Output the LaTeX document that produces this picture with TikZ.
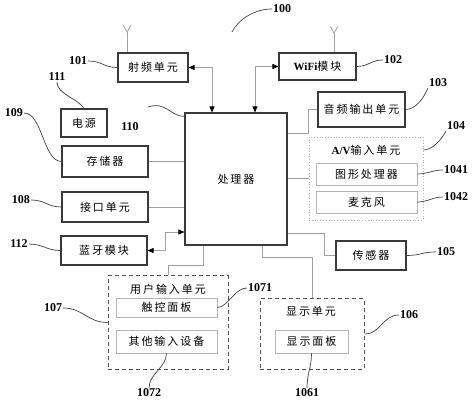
\documentclass[tikz,border=0pt]{standalone}
\usepackage{fontspec}
\setmainfont{Liberation Serif}
\newfontfamily\cjk[LetterSpace=18]{Noto Sans CJK SC}
\usetikzlibrary{arrows.meta}
\newcommand\latb[1]{{\rmfamily\bfseries #1}}
\definecolor{boxc}{HTML}{3A3A3A}
\definecolor{subc}{HTML}{B4B4B4}
\definecolor{grpc}{HTML}{505050}
\definecolor{connc}{HTML}{A0A0A0}
\definecolor{leadc}{HTML}{404040}
\begin{document}
\begin{tikzpicture}[x=1pt,y=-1pt,
  txt/.style={font=\cjk\fontsize{11}{13}\selectfont, text=black},
  box/.style={txt, draw=boxc, line width=1.1pt, inner sep=0pt},
  sub/.style={txt, draw=subc, line width=0.8pt, inner sep=0pt},
  grp/.style={draw=grpc, line width=1pt, dash pattern=on 4pt off 3pt, inner sep=0pt},
  dgrp/.style={draw=subc, line width=0.8pt, dotted, inner sep=0pt},
  lab/.style={font=\bfseries\fontsize{12}{14}\selectfont, inner sep=1pt},
  conn/.style={draw=connc, line width=0.8pt},
  lead/.style={draw=leadc, line width=0.7pt},
  ant/.style={draw=connc, line width=0.7pt},
  tips/.style={{Triangle[length=6pt,width=5pt,color=black]}-{Triangle[length=6pt,width=5pt,color=black]}}
]
\useasboundingbox (0,0) rectangle (474,403);

% main boxes
\node[box,minimum width=102pt,minimum height=132pt] (proc) at (236,179) {处理器};
\node[box,minimum width=70pt,minimum height=29pt] (rf) at (153,67.5) {射频单元};
\node[box,minimum width=77pt,minimum height=27pt] (wifi) at (317.5,66.5) {\latb{WiFi}模块};
\node[box,minimum width=46pt,minimum height=28pt] (power) at (84,123) {电源};
\node[box,minimum width=86pt,minimum height=31pt] (mem) at (105,161.5) {存储器};
\node[box,minimum width=86pt,minimum height=30pt] (iface) at (105,207) {接口单元};
\node[box,minimum width=86pt,minimum height=29pt] (bt) at (104,250.5) {蓝牙模块};
\node[box,minimum width=87pt,minimum height=35pt] (audio) at (361.5,109.5) {音频输出单元};
\node[box,minimum width=70pt,minimum height=29pt] (sensor) at (371,255.5) {传感器};

% A/V group
\node[dgrp,minimum width=114pt,minimum height=83pt] (av) at (366,178.5) {};
\node[txt] (avt) at (366,150) {\latb{A/V}输入单元};
\node[sub,minimum width=101pt,minimum height=22pt] (gpu) at (366.5,174) {图形处理器};
\node[sub,minimum width=101pt,minimum height=22pt] (mic) at (366.5,202) {麦克风};

% user input group
\node[grp,minimum width=120pt,minimum height=93pt] (user) at (168,322.5) {};
\node[txt] (usert) at (168,289) {用户输入单元};
\node[sub,minimum width=101pt,minimum height=19pt] (touch) at (166.5,307.5) {触控面板};
\node[sub,minimum width=101pt,minimum height=23pt] (other) at (166.5,341.5) {其他输入设备};

% display group
\node[grp,minimum width=104pt,minimum height=70pt] (disp) at (312,334) {};
\node[txt] (dispt) at (311,311) {显示单元};
\node[sub,minimum width=73pt,minimum height=23pt] (panel) at (311.5,341.5) {显示面板};

% antennas
\coordinate (rfa) at (127,32);
\draw[ant] (rf.north -| rfa) -- (rfa);
\draw[ant] (123,25) -- (rfa) -- (131,25);
\coordinate (wfa) at (334,33);
\draw[ant] (wifi.north -| wfa) -- (wfa);
\draw[ant] (330,26) -- (wfa) -- (338,26);

% connectors
\draw[conn,tips] (rf.east) -| ([xshift=-24pt]proc.north);
\draw[conn,tips] (wifi.west) -| ([xshift=19pt]proc.north);
\draw[conn] (mem.east) -- (mem.east -| proc.west);
\draw[conn] (iface.east) -- (iface.east -| proc.west);
\coordinate (btk) at (165,232);
\draw[conn,tips] (bt.east) -| (btk) -- (btk -| proc.west);
\coordinate (auk) at (308,133);
\draw[conn] (auk -| proc.east) -- (auk) |- (audio.west);
\draw[conn] (av.west -| proc.east) -- (av.west);
\coordinate (sek) at (324,233);
\draw[conn] (sek -| proc.east) -- (sek) |- (sensor.west);
\coordinate (usk) at (203,265);
\draw[conn] (proc.south -| usk) -- (usk) -| (user.north);
\coordinate (dik) at (262,257);
\draw[conn] (proc.south -| dik) -- (dik) -| (disp.north);

% labels
\node[lab] (l100) at (282,9) {100};
\node[lab] (l101) at (78,61) {101};
\node[lab] (l102) at (393,60) {102};
\node[lab] (l103) at (438,83) {103};
\node[lab] (l104) at (456,126) {104};
\node[lab] (l1041) at (456,170) {1041};
\node[lab] (l1042) at (456,197) {1042};
\node[lab] (l105) at (446,252) {105};
\node[lab] (l106) at (409,315) {106};
\node[lab] (l1061) at (307,393) {1061};
\node[lab] (l107) at (53,308) {107};
\node[lab] (l1071) at (260,288) {1071};
\node[lab] (l1072) at (149,393) {1072};
\node[lab] (l108) at (21,200) {108};
\node[lab] (l109) at (14,113) {109};
\node[lab] (l110) at (130,127) {110};
\node[lab] (l111) at (57,77) {111};
\node[lab] (l112) at (19,244) {112};

% leaders
\coordinate (c100) at (232,32);
\draw[lead] (l100.west) .. controls +(-18,0) and +(6,-12) .. (c100);
\draw[lead] (l101.east) .. controls +(14,0) and +(-14,0) .. (rf.west);
\draw[lead] (l102.west) .. controls +(-12,0) and +(12,0) .. (wifi.east);
\draw[lead] (l103.south west) .. controls +(-4,10) and +(10,0) .. (audio.east);
\draw[lead] (l104.south west) .. controls +(-5,10) and +(8,0) .. (av.east |- avt);
\draw[lead] (l1041.west) .. controls +(-10,0) and +(10,0) .. (gpu.east);
\draw[lead] (l1042.west) .. controls +(-10,0) and +(10,0) .. (mic.east);
\draw[lead] (l105.west) .. controls +(-14,0) and +(14,0) .. (sensor.east);
\draw[lead] (l106.west) .. controls +(-16,0) and +(16,0) .. (disp.east);
\draw[lead] (l1061.north) .. controls +(0,-14) and +(0,14) .. (panel.south);
\draw[lead] (l107.east) .. controls +(20,0) and +(-20,0) .. (user.west);
\draw[lead] (l1071.west) .. controls +(-12,0) and +(10,0) .. (touch.east);
\draw[lead] (l1072.north) .. controls +(0,-14) and +(0,14) .. (other.south);
\draw[lead] (l108.east) .. controls +(14,0) and +(-14,0) .. (iface.west);
\draw[lead] (l109.east) .. controls +(18,0) and +(-18,0) .. (mem.west);
\coordinate (c110) at (148,107);
\draw[lead] (c110) .. controls +(18,-6) and +(-14,0) .. ([yshift=-4pt]proc.north west);
\draw[lead] (l111.south) .. controls +(0,12) and +(-6,-10) .. (power.north);
\draw[lead] (l112.east) .. controls +(14,0) and +(-14,0) .. (bt.west);
\end{tikzpicture}
\end{document}
